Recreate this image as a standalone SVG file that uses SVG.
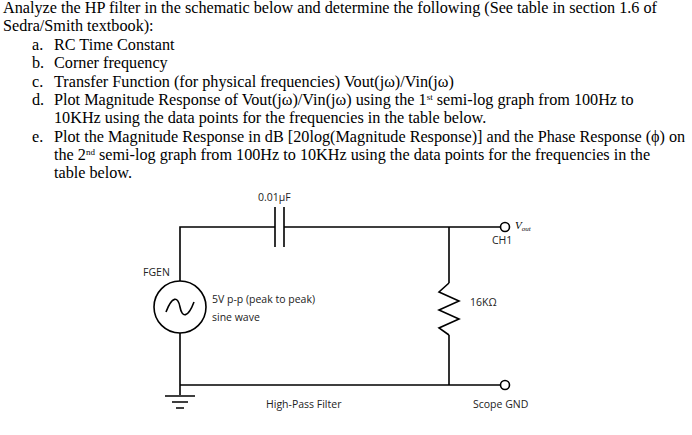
<svg xmlns="http://www.w3.org/2000/svg" width="692" height="435" viewBox="0 0 692 435">
<style>
.t{font-family:"Liberation Serif",serif;font-size:16.2px;fill:#000}
.s{font-family:"Open Sans","DejaVu Sans",sans-serif;font-size:10.5px;fill:#222}
.w{stroke:#000;stroke-width:1.6;fill:none}
</style>
<rect width="692" height="435" fill="#fff"/>
<g id="text">
<text class="t" x="3" y="13">Analyze the HP filter in the schematic below and determine the following (See table in section 1.6 of</text>
<text class="t" x="3" y="31">Sedra/Smith textbook):</text>
<text class="t" x="32" y="50">a.</text><text class="t" x="54" y="50">RC Time Constant</text>
<text class="t" x="32" y="68">b.</text><text class="t" x="54" y="68">Corner frequency</text>
<text class="t" x="32" y="87">c.</text><text class="t" x="54" y="87">Transfer Function (for physical frequencies) Vout(jω)/Vin(jω)</text>
<text class="t" x="32" y="105">d.</text><text class="t" x="54" y="105">Plot Magnitude Response of Vout(jω)/Vin(jω) using the 1<tspan font-size="9" dy="-5">st</tspan><tspan dy="5"> semi-log graph from 100Hz to</tspan></text>
<text class="t" x="54" y="123">10KHz using the data points for the frequencies in the table below.</text>
<text class="t" x="32" y="142">e.</text><text class="t" x="54" y="142">Plot the Magnitude Response in dB [20log(Magnitude Response)] and the Phase Response (ϕ) on</text>
<text class="t" x="54" y="160">the 2<tspan font-size="9" dy="-5">nd</tspan><tspan dy="5"> semi-log graph from 100Hz to 10KHz using the data points for the frequencies in the</tspan></text>
<text class="t" x="54" y="178">table below.</text>
</g>
<g id="connectors">
<path class="w" d="M180 281V227H275M284 227H501M449 227V283M449 335V385M180 333V395M180 385H501"/>
</g>
<g id="capacitor">
<path class="w" d="M275 207V247M284 207V247"/>
<text class="s" x="258" y="201">0.01μF</text>
</g>
<g id="source">
<circle class="w" cx="180" cy="307" r="26"/>
<path class="w" d="M166 312C172 296 178 296 180 307S188 318 194 302"/>
<text class="s" x="143" y="276">FGEN</text>
<text class="s" x="212" y="303">5V p-p (peak to peak)</text>
<text class="s" x="212" y="321">sine wave</text>
</g>
<g id="ground">
<path class="w" d="M165 396H195M172 402H188M176 408H184"/>
</g>
<g id="resistor">
<path class="w" d="M449 283L439 292L459 301L439 310L459 319L439 328L449 335"/>
<text class="s" x="470" y="306">16KΩ</text>
</g>
<g id="vout">
<circle class="w" cx="505" cy="227" r="4.5" fill="#fff"/>
<text class="s" x="492" y="244">CH1</text>
<text x="515" y="229" font-family="Liberation Serif,serif" font-style="italic" font-size="11">V<tspan font-size="7" dy="2">out</tspan></text>
</g>
<g id="gnd">
<circle class="w" cx="505" cy="385" r="4.5" fill="#fff"/>
<text class="s" x="473" y="408">Scope GND</text>
</g>
<text class="s" x="266" y="408">High-Pass Filter</text>
</svg>
